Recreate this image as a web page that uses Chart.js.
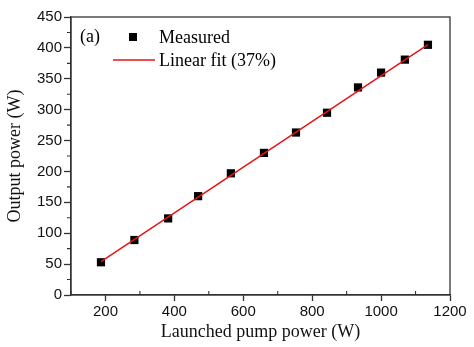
<!DOCTYPE html>
<html>
<head>
<meta charset="utf-8">
<script src="https://cdn.jsdelivr.net/npm/chart.js@4"></script>
<style>
html,body{margin:0;padding:0;background:#fff;}
#wrap{width:474px;height:347px;}
</style>
</head>
<body>
<div id="wrap"><canvas id="c" width="474" height="347"></canvas></div>
<script>
const pumpPower = [187, 284, 382, 469, 564, 660, 753, 843, 933, 1000, 1069, 1136];
const outputPower = [53, 89, 124, 160, 197, 230, 263, 295, 336, 360, 381, 405];
const fitX = [187, 1136];
const fitY = [54.2, 405.3];
const xTicks = [200, 400, 600, 800, 1000, 1200];
const yTicks = [0, 50, 100, 150, 200, 250, 300, 350, 400, 450];
const seriesLabels = ['Measured', 'Linear fit (37%)'];
const panelLabel = '(a)';
const xTitle = 'Launched pump power (W)';
const yTitle = 'Output power (W)';

const serif = '"Liberation Serif", "Times New Roman", serif';
const sans = '"Liberation Sans", Arial, sans-serif';

const frameAndExtras = {
  id: 'frameAndExtras',
  afterDatasetsDraw(chart) {
    const ctx = chart.ctx;
    const a = chart.chartArea;
    const xs = chart.scales.x, ys = chart.scales.y;
    ctx.save();
    ctx.strokeStyle = '#333';
    ctx.lineWidth = 1.3;
    ctx.strokeRect(a.left, a.top, a.right - a.left, a.bottom - a.top);
    // minor ticks
    ctx.lineWidth = 1.1;
    ctx.beginPath();
    for (let v = 100; v <= 1200; v += 200) {
      const px = xs.getPixelForValue(v);
      ctx.moveTo(px, a.bottom); ctx.lineTo(px, a.bottom - 4);
    }
    for (let v = 25; v <= 450; v += 50) {
      const py = ys.getPixelForValue(v);
      ctx.moveTo(a.left, py); ctx.lineTo(a.left - 4, py);
    }
    ctx.stroke();
    // legend
    ctx.fillStyle = '#000';
    ctx.font = '18px ' + serif;
    ctx.textBaseline = 'middle';
    ctx.textAlign = 'left';
    ctx.fillText(panelLabel, 80, 37);
    ctx.fillRect(129, 33, 8, 8);
    ctx.fillText(chart.data.datasets[0].label, 159, 38);
    ctx.strokeStyle = 'rgb(230,20,20)';
    ctx.lineWidth = 1.5;
    ctx.beginPath(); ctx.moveTo(113, 60); ctx.lineTo(155, 60); ctx.stroke();
    ctx.fillStyle = '#000';
    ctx.fillText(chart.data.datasets[1].label, 159, 61);
    ctx.restore();
  }
};

new Chart(document.getElementById('c'), {
  type: 'scatter',
  data: {
    datasets: [
      {
        label: seriesLabels[0],
        data: pumpPower.map((x, i) => ({x: x, y: outputPower[i]})),
        pointStyle: 'rect',
        pointRadius: 5.8,
        backgroundColor: '#000',
        borderColor: '#000',
        borderWidth: 0,
        order: 2
      },
      {
        label: seriesLabels[1],
        data: fitX.map((x, i) => ({x: x, y: fitY[i]})),
        showLine: true,
        pointRadius: 0,
        borderColor: 'rgb(230,20,20)',
        borderWidth: 1.5,
        order: 1
      }
    ]
  },
  options: {
    responsive: false,
    animation: false,
    devicePixelRatio: 1,
    layout: {padding: {top: 17, right: 24, left: 0, bottom: 0}},
    plugins: {legend: {display: false}, tooltip: {enabled: false}},
    scales: {
      x: {
        type: 'linear', min: 100, max: 1200,
        afterBuildTicks: s => { s.ticks = xTicks.map(v => ({value: v})); },
        afterFit: s => { s.height = 52; },
        grid: {drawOnChartArea: false, tickLength: 6, tickColor: '#333', tickWidth: 1.3},
        border: {display: true, color: '#333', width: 1.3},
        ticks: {color: '#111', font: {family: sans, size: 15}, padding: 2, maxRotation: 0, callback: v => String(v)},
        title: {display: true, text: xTitle, color: '#111', font: {family: serif, size: 18}, padding: {top: 0, bottom: 4}}
      },
      y: {
        type: 'linear', min: 0, max: 450,
        afterBuildTicks: s => { s.ticks = yTicks.map(v => ({value: v})); },
        afterFit: s => { s.width = 71; },
        grid: {drawOnChartArea: false, tickLength: 7, tickColor: '#333', tickWidth: 1.3},
        border: {display: true, color: '#333', width: 1.3},
        ticks: {color: '#111', font: {family: sans, size: 15}, padding: 2, callback: v => String(v)},
        title: {display: true, text: yTitle, color: '#111', font: {family: serif, size: 18}, padding: {top: 4, bottom: 0}}
      }
    }
  },
  plugins: [frameAndExtras]
});
</script>
</body>
</html>
